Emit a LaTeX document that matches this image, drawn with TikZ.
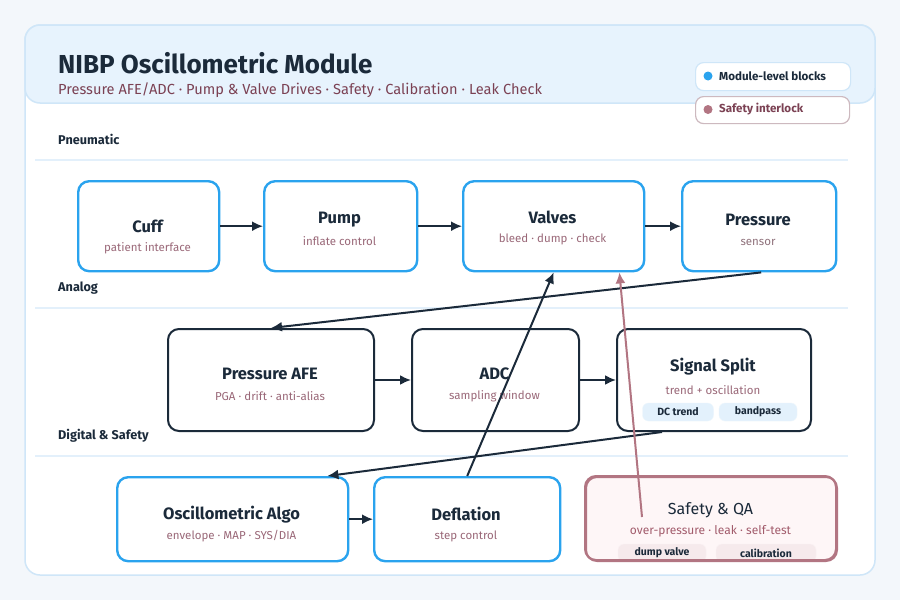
\documentclass[tikz,border=0pt]{standalone}
\usepackage{fontspec}
\setmainfont{Fira Sans}
\usetikzlibrary{arrows.meta,calc}
\definecolor{bgc}{HTML}{F3F7FB}
\definecolor{cardB}{HTML}{CFE6F8}
\definecolor{headF}{HTML}{E7F3FD}
\definecolor{blueB}{HTML}{2AA3EE}
\definecolor{darkT}{HTML}{1B2A3A}
\definecolor{subT}{HTML}{9A6878}
\definecolor{headSub}{HTML}{7B4153}
\definecolor{sepC}{HTML}{E3F0FB}
\definecolor{chipF}{HTML}{E3F1FC}
\definecolor{safeB}{HTML}{B27582}
\definecolor{safeF}{HTML}{FEF6F7}
\definecolor{safeChip}{HTML}{F6EAEC}
\definecolor{safeT}{HTML}{A25C6C}
\definecolor{legB}{HTML}{CDB9BF}
\tikzset{
  bluebox/.style={draw=blueB, line width=2.4pt, rounded corners=11pt, fill=white, inner sep=0pt},
  darkbox/.style={draw=darkT, line width=2pt, rounded corners=11pt, fill=white, inner sep=0pt},
  safebox/.style={draw=safeB, line width=2pt, rounded corners=11pt, fill=safeF, inner sep=0pt},
  ttl/.style={font=\fontsize{16.5}{19}\selectfont\bfseries, text=darkT, inner sep=0pt},
  sub/.style={font=\fontsize{11.5}{13}\selectfont, text=subT, inner sep=0pt},
  chip/.style={fill=chipF, draw=chipF!60!white, rounded corners=6pt, minimum height=18pt, inner sep=0pt, font=\fontsize{10.5}{12}\selectfont\bfseries, text=darkT},
  schip/.style={fill=safeChip, draw=safeChip!60!white, rounded corners=6pt, minimum height=18pt, inner sep=0pt, font=\fontsize{10.5}{12}\selectfont\bfseries, text=darkT},
  sec/.style={font=\fontsize{12.7}{14}\selectfont\bfseries, text=darkT, anchor=west, inner sep=0pt},
  sepl/.style={draw=sepC, line width=2pt},
  arr/.style={draw=darkT, line width=2pt, -{Latex[length=11pt,width=10pt]}},
  sarr/.style={draw=safeB, line width=2pt, -{Latex[length=11pt,width=10pt]}},
}
\begin{document}
\begin{tikzpicture}[x=1pt,y=-1pt]
\useasboundingbox (0,0) rectangle (900,600);
\fill[bgc] (0,0) rectangle (900,600);
% card
\draw[cardB, line width=1.5pt, fill=white, rounded corners=15pt] (25,25) rectangle (875,575);
\draw[cardB, line width=1.5pt, fill=headF, rounded corners=15pt] (25,25) rectangle (875,103);
\node[anchor=west, inner sep=0pt, font=\fontsize{26}{30}\selectfont\bfseries, text=darkT] (title) at (58,63) {NIBP Oscillometric Module};
\node[anchor=west, inner sep=0pt, font=\fontsize{14.6}{17}\selectfont, text=headSub] (subtitle) at (58,90) {Pressure AFE/ADC · Pump \& Valve Drives · Safety · Calibration · Leak Check};
% legend
\node[draw=cardB, line width=1.2pt, fill=white, rounded corners=8pt, minimum width=155pt, minimum height=28pt, anchor=north west] (leg1) at (695,62) {};
\fill[blueB] (708,76) circle (4.5pt);
\node[anchor=west, inner sep=0pt, font=\fontsize{11.6}{13}\selectfont\bfseries, text=darkT] (leg1t) at (719,76) {Module-level blocks};
\node[draw=legB, line width=1.2pt, fill=white, rounded corners=8pt, minimum width=154pt, minimum height=27pt, anchor=north west] (leg2) at (695,96) {};
\fill[safeB] (708,109.5) circle (4.5pt);
\node[anchor=west, inner sep=0pt, font=\fontsize{11.6}{13}\selectfont\bfseries, text=headSub] (leg2t) at (719,109.5) {Safety interlock};
% sections
\node[sec] (s1) at (58,139) {Pneumatic};
\draw[sepl] (35,160) -- (848,160);
\node[sec] (s2) at (58,288) {Analog};
\draw[sepl] (35,308) -- (848,308);
\node[sec] (s3) at (58,436) {Digital \& Safety};
\draw[sepl] (35,456) -- (848,456);
% row 1
\node[bluebox, minimum width=141pt, minimum height=90pt, anchor=north west] (cuff) at (77,180) {};
\node[ttl] (cufft) at (147.5,226) {Cuff};
\node[sub] (cuffs) at (147.5,248) {patient interface};
\node[bluebox, minimum width=153pt, minimum height=90pt, anchor=north west] (pump) at (263,180) {};
\node[ttl] (pumpt) at (339.5,220) {Pump};
\node[sub] (pumps) at (339.5,241) {inflate control};
\node[bluebox, minimum width=181pt, minimum height=90pt, anchor=north west] (valves) at (462,180) {};
\node[ttl] (valvest) at (552.5,217) {Valves};
\node[sub] (valvess) at (552.5,239) {bleed · dump · check};
\node[bluebox, minimum width=154pt, minimum height=90pt, anchor=north west] (press) at (681,180) {};
\node[ttl] (presst) at (758,220) {Pressure};
\node[sub, text=subT!60!gray] (presss) at (758,242) {sensor};
% row 2
\node[darkbox, minimum width=206pt, minimum height=102pt, anchor=north west] (afe) at (167,328) {};
\node[ttl] (afet) at (270,374) {Pressure AFE};
\node[sub] (afes) at (270,396) {PGA · drift · anti-alias};
\node[darkbox, minimum width=167pt, minimum height=102pt, anchor=north west] (adc) at (411,328) {};
\node[ttl] (adct) at (494.5,374) {ADC};
\node[sub] (adcs) at (494.5,396) {sampling window};
\node[darkbox, minimum width=194pt, minimum height=102pt, anchor=north west] (split) at (616,328) {};
\node[ttl] (splitt) at (713,367) {Signal Split};
\node[sub] (splits) at (713,390) {trend + oscillation};
\node[chip, minimum width=71pt] (c1) at (678,412) {DC trend};
\node[chip, minimum width=78pt] (c2) at (758,412) {bandpass};
% row 3
\node[bluebox, minimum width=231pt, minimum height=84pt, anchor=north west] (osc) at (116,476) {};
\node[ttl] (osct) at (231.5,515) {Oscillometric Algo};
\node[sub] (oscs) at (231.5,536) {envelope · MAP · SYS/DIA};
\node[bluebox, minimum width=186pt, minimum height=84pt, anchor=north west] (defl) at (373,476) {};
\node[ttl] (deflt) at (466,514) {Deflation};
\node[sub] (defls) at (466,536) {step control};
\begin{scope}
\node[safebox, minimum width=251pt, minimum height=84pt, anchor=north west] (safe) at (585,476) {};
\clip[rounded corners=10pt] (586,477) rectangle (835,559);
\node[schip, minimum width=88pt] (c3) at (662,553) {dump valve};
\node[schip, minimum width=100pt] (c4) at (766,553) {calibration};
\end{scope}
\draw[safeB, line width=2pt, rounded corners=11pt] (585,476) rectangle (836,560);
\node[ttl, font=\fontsize{16}{19}\selectfont, text=darkT] (safet) at (710.5,510) {Safety \& QA};
\node[sub, font=\fontsize{12}{14}\selectfont, text=safeT] (safes) at (710.5,531) {over-pressure · leak · self-test};
% connectors
\draw[arr] (cuff) -- (pump);
\draw[arr] (pump) -- (valves);
\draw[arr] (valves) -- (press);
\draw[arr] ($(press.south)+(2,0)$) -- (afe.north);
\draw[arr] (afe) -- (adc);
\draw[arr] (adc) -- (split);
\draw[arr] ($(split.south west)+(46,0)$) -- ($(osc.north east)+(-22,0)$);
\draw[arr] (osc) -- (defl);
\draw[arr] (defl.north) -- (valves.south);
\coordinate (sstart) at (642,517);
\draw[sarr] (sstart) -- ($(valves.south east)+(-26,0)$);
\end{tikzpicture}
\end{document}
